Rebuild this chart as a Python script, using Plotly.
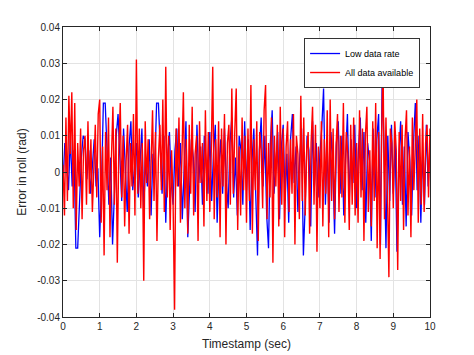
import numpy as np
import plotly.graph_objects as go

# Red series: "All data available", sampled every 0.04 s (values in mrad)
red_t_step = 0.04
red_mrad = [
    2, -12, 15, -8, 21, 5, 22, -10, 19, -16, 8, -4, 12, -13, 6, 10, -9, 14, -6, 9, -11, 3, 13, -7, 16,
    20, -14, 7, -23, 11, -5, 15, -18, 4, 18, -9, 12, -25, 6, 19, -7, 10, -15, 3, 13, -17, 8, -4, 16, -12,
    31, -6, 12, -10, 8, -30, 14, -3, 9, -13, 5, 17, -8, 11, -19, 4, 13, -5, 20, -11, 29, -7, 10, -16, 6,
    -9, -38, 12, -4, 15, -14, 7, 22, -10, 9, -17, 13, -6, 18, -12, 5, 10, -19, 14, -3, 8, -15, 17, -8, 11,
    -11, 6, 29, -13, 9, -7, 14, -18, 12, -4, 16, -20, 8, 13, -9, 23, -6, 11, 23, -16, 7, -12, 15, -5, 10,
    -14, 12, -8, 24, -17, 9, -5, 14, -19, 11, 6, -10, 17, 24, -13, 8, -7, 15, -25, 10, -4, 13, -15, 18, -9,
    12, -18, 7, 14, -11, 9, -6, 16, -20, 10, 5, -13, 21, -8, 15, -12, 6, 11, -17, 8, 18, -9, 13, -22, 7,
    -10, 14, -15, 9, -6, 17, -18, 20, -8, 12, -13, 7, 16, -11, 10, -7, 19, -14, 11, 5, -16, 13, -9, 15, -12,
    8, -14, 17, -7, 12, -19, 10, 18, -11, 6, -15, 14, -8, 19, -21, 11, -24, 9, 30, -13, 15, -6, -29, 12, 8,
    -10, 14, 6, -27, 11, -8, 13, -16, 9, 17, -12, 7, -18, 15, -5, 10, 20, -14, 12, -9, 16, -11, 8, 13, -7,
    12,
]

# Blue series: "Low data rate", sampled every 0.05 s (values in mrad)
blue_t_step = 0.05
blue_mrad = [
    -3, 8, 2, -5, 10, -4, 6, -21, -21, -8, 4, 10, 9, -2, 6, -6, 3, 9, -4, 1,
    -18, -3, 19, 19, 6, -9, 4, -20, -6, 10, 16, 3, -8, 12, -2, -11, 7, 14, -5, 2,
    8, -7, 4, 12, -10, 3, -4, 9, -12, 5, 1, 19, 19, 8, -6, 10, -14, 4, 11, -3,
    -9, 6, 12, -4, 8, -13, 2, 14, -18, -5, 9, 4, -11, 13, -3, 7, -9, 10, 3, -6,
    11, -8, 5, 13, -14, 2, 9, -6, 12, -3, -10, 8, 15, -7, 4, -12, 10, 6, -9, 14,
    -5, 9, -16, 3, 12, -7, -23, 6, 15, -4, 10, -12, -21, 8, 17, -6, 4, 11, -13, 7,
    13, -8, 5, -14, 9, 16, -3, 7, -11, 4, 12, -23, -9, 10, 6, -15, 14, -4, 8, -7,
    5, 12, 23, -9, 7, -14, 11, 3, -17, 8, 14, -6, 10, -12, 4, 16, -8, 9, -3, 13,
    -10, 6, 15, -5, 11, -14, 8, 3, -19, 12, -7, 9, 16, -20, 30, 5, -21, 10, -8, 13,
    -6, 9, -22, 4, 14, -9, 7, -15, 11, 3, -12, 8, 19, -5, 10, -14, 6, -9, 13, -4,
    8,
]

series_names = ["Low data rate", "All data available"]
y_tick_vals = [-0.04, -0.03, -0.02, -0.01, 0, 0.01, 0.02, 0.03, 0.04]
y_tick_text = ["-0.04", "-0.03", "-0.02", "-0.01", "0", "0.01", "0.02", "0.03", "0.04"]
x_tick_vals = [0, 1, 2, 3, 4, 5, 6, 7, 8, 9, 10]

red_t = np.arange(len(red_mrad)) * red_t_step
blue_t = np.arange(len(blue_mrad)) * blue_t_step
red_y = np.array(red_mrad) * 1e-3
blue_y = np.array(blue_mrad) * 1e-3

fig = go.Figure()
fig.add_trace(go.Scatter(x=blue_t, y=blue_y, mode="lines", name=series_names[0],
                         line=dict(color="#0000ff", width=1.3)))
fig.add_trace(go.Scatter(x=red_t, y=red_y, mode="lines", name=series_names[1],
                         line=dict(color="#ff0000", width=1.4)))

axis_font = dict(family="Liberation Sans, Arial, sans-serif", size=10, color="#262626")
fig.update_layout(
    width=474, height=355,
    margin=dict(l=63, r=44, t=27, b=38, autoexpand=False),
    paper_bgcolor="white", plot_bgcolor="white",
    font=axis_font,
    showlegend=True,
    legend=dict(x=0.973, y=0.962, xanchor="right", yanchor="top",
                bgcolor="white", bordercolor="#333333", borderwidth=1,
                font=dict(family="Liberation Sans, Arial, sans-serif", size=9, color="#000000"),
                tracegroupgap=0, itemwidth=30),
)
fig.update_xaxes(
    range=[0, 10], tickvals=x_tick_vals, ticks="inside", ticklen=4, tickcolor="#262626",
    showline=True, linecolor="#262626", linewidth=1, mirror="ticks",
    showgrid=True, gridcolor="#e3e3e3", gridwidth=1, zeroline=False, automargin=False,
    title=dict(text="Timestamp (sec)", font=dict(size=12, color="#262626"), standoff=8),
    tickfont=axis_font,
)
fig.update_yaxes(
    range=[-0.04, 0.04], tickvals=y_tick_vals, ticktext=y_tick_text,
    ticks="inside", ticklen=4, tickcolor="#262626",
    showline=True, linecolor="#262626", linewidth=1, mirror="ticks",
    showgrid=True, gridcolor="#e3e3e3", gridwidth=1, zeroline=False, automargin=False,
    title=dict(text="Error in roll (rad)", font=dict(size=12, color="#262626"), standoff=8),
    tickfont=axis_font,
)

fig.write_html("out.html", config={"displayModeBar": False},
               post_script="document.body.style.margin='0';")
